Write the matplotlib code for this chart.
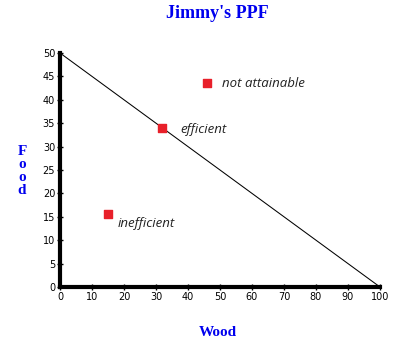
import matplotlib.pyplot as plt

# PPF line endpoints (wood, food)
ppf_wood = [0, 100]
ppf_food = [50, 0]

# labelled points
point_names = ['not attainable', 'efficient', 'inefficient']
point_wood = [46, 32, 15]
point_food = [43.5, 34, 15.5]

x_ticks = list(range(0, 101, 10))
y_ticks = list(range(0, 51, 5))

fig = plt.figure(figsize=(3.93, 3.53), dpi=100)
ax = fig.add_axes([60 / 393, 1 - 287 / 353, 320 / 393, 234 / 353])

ax.plot(ppf_wood, ppf_food, color='black', lw=0.75)
ax.scatter(point_wood, point_food, marker='s', s=36, color='#e8202a', zorder=3)

offsets = [(4.5, 0), (5.5, -0.4), (3, -2)]
for name, x, y, (dx, dy) in zip(point_names, point_wood, point_food, offsets):
    ax.text(x + dx, y + dy, name, fontsize=9.5, style='italic', color='#222222',
            va='center', ha='left', family='Open Sans')

ax.set_xlim(0, 100)
ax.set_ylim(0, 50)
ax.set_xticks(x_ticks)
ax.set_yticks(y_ticks)
ax.tick_params(labelsize=7, direction='inout', length=5, width=1, pad=1)
for side in ['top', 'right']:
    ax.spines[side].set_visible(False)
for side in ['left', 'bottom']:
    ax.spines[side].set_linewidth(3)

fig.text(217 / 393, 1 - 14 / 353, "Jimmy's PPF", color='#0000ee', fontsize=13,
         fontweight='bold', family='Liberation Serif', ha='center', va='center')
fig.text(218 / 393, 1 - 333 / 353, 'Wood', color='#0000ee', fontsize=11,
         fontweight='bold', family='Liberation Serif', ha='center', va='center')
fig.text(22 / 393, 1 - 171 / 353, '\n'.join('Food'), color='#0000ee', fontsize=11,
         fontweight='bold', family='Liberation Serif', ha='center', va='center',
         linespacing=1.0)

plt.savefig('out.png', dpi=100)
